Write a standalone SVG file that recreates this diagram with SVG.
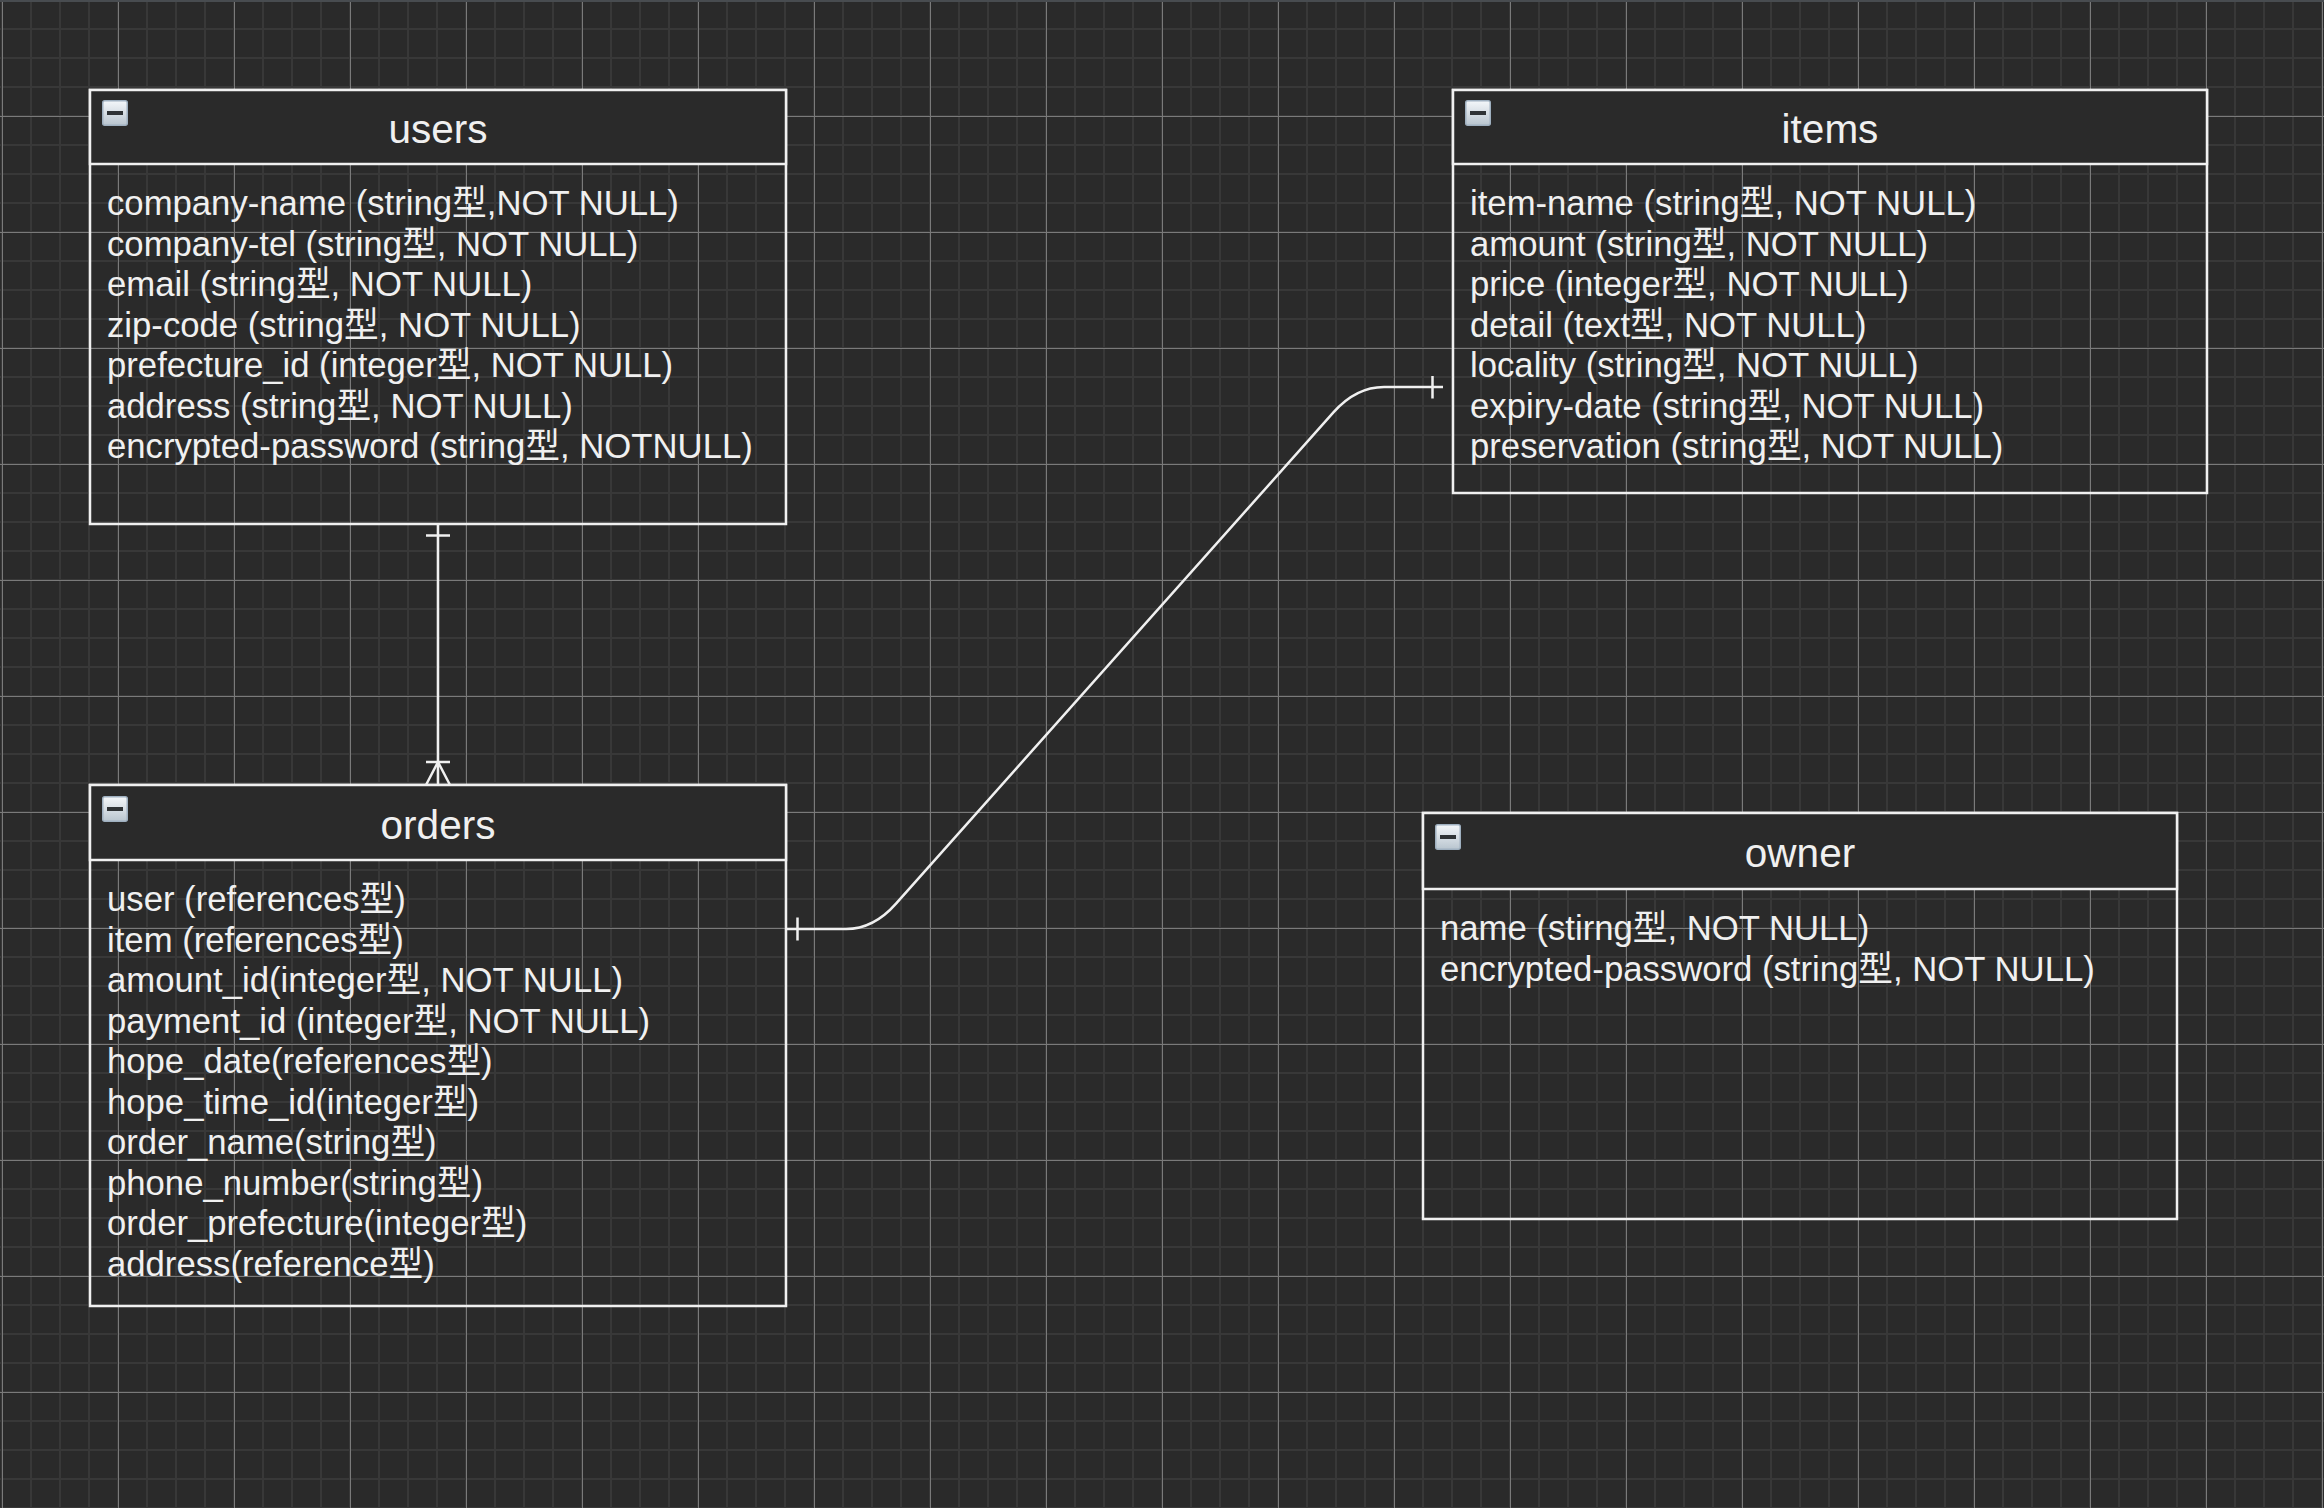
<svg xmlns="http://www.w3.org/2000/svg" xmlns:xlink="http://www.w3.org/1999/xlink" width="2324" height="1508" viewBox="0 0 2324 1508">
  <defs>
    <pattern id="gridMinor" patternUnits="userSpaceOnUse" x="1" y="28" width="29" height="29">
      <rect x="0" y="0" width="2" height="29" fill="#383838"/>
      <rect x="0" y="0" width="29" height="2" fill="#383838"/>
    </pattern>
    <pattern id="gridMajor" patternUnits="userSpaceOnUse" x="2" y="0" width="116" height="116">
      <rect x="0" y="0" width="1" height="116" fill="#7a7a7a"/>
      <rect x="0" y="0" width="116" height="1" fill="#7a7a7a"/>
    </pattern>
    <linearGradient id="iconGrad" x1="0" y1="0" x2="0" y2="1">
      <stop offset="0" stop-color="#f4f7fa"/>
      <stop offset="1" stop-color="#b9c5cf"/>
    </linearGradient>
    <g id="minusIcon">
      <rect x="0.75" y="0.75" width="24.5" height="24.5" rx="2" fill="url(#iconGrad)" stroke="#9fb0c0" stroke-width="1.5"/>
      <rect x="5" y="11" width="16" height="4" fill="#2f3336"/>
    </g>
  </defs>
  <style>
    .hdr { fill: #2a2a2a; stroke: #f0f0f0; stroke-width: 2.5; }
    .box { fill: none; stroke: #f0f0f0; stroke-width: 2.5; }
    .title { font-family: "Liberation Sans", Arial, Helvetica, "Noto Sans CJK JP", sans-serif; font-size: 40.5px; fill: #f0f0f0; text-anchor: middle; }
    .field { font-family: "Liberation Sans", Arial, Helvetica, "Noto Sans CJK JP", sans-serif; font-size: 34.7px; fill: #f0f0f0; }
    .edge { fill: none; stroke: #f0f0f0; stroke-width: 2.5; stroke-linecap: butt; stroke-linejoin: round; }
  </style>

  <rect x="0" y="0" width="2324" height="1508" fill="#2a2a2a"/>
  <rect x="0" y="0" width="2324" height="1508" fill="url(#gridMinor)"/>
  <rect x="0" y="0" width="2324" height="1508" fill="url(#gridMajor)"/>
  <rect x="0" y="0" width="2324" height="2" fill="#484c50"/>

  <g id="connectors">
    <g id="edge-users-orders">
      <line class="edge" x1="438" y1="524" x2="438" y2="785"/>
      <line class="edge" x1="426" y1="535.5" x2="450" y2="535.5"/>
      <line class="edge" x1="426" y1="762" x2="450" y2="762"/>
      <path class="edge" d="M426,785 L438,762 L450,785"/>
    </g>
    <g id="edge-orders-items">
      <path class="edge" d="M786,929 H846 Q873.6,929 896,903.6 L1333.4,412.4 Q1356,387 1384,387 H1443"/>
      <line class="edge" x1="797.5" y1="917.5" x2="797.5" y2="940.5"/>
      <line class="edge" x1="1432.5" y1="376" x2="1432.5" y2="398.5"/>
    </g>
  </g>

  <g id="node-users">
    <rect class="box" x="90" y="90" width="696" height="434"/>
    <rect class="hdr" x="90" y="90" width="696" height="74"/>
    <use xlink:href="#minusIcon" href="#minusIcon" x="102" y="100"/>
    <text class="title" x="438" y="143">users</text>
    <text class="field">
      <tspan x="107" y="215">company-name (string型,NOT NULL)</tspan>
      <tspan x="107" y="255.5">company-tel (string型, NOT NULL)</tspan>
      <tspan x="107" y="296">email (string型, NOT NULL)</tspan>
      <tspan x="107" y="336.5">zip-code (string型, NOT NULL)</tspan>
      <tspan x="107" y="377">prefecture_id (integer型, NOT NULL)</tspan>
      <tspan x="107" y="417.5">address (string型, NOT NULL)</tspan>
      <tspan x="107" y="458">encrypted-password (string型, NOTNULL)</tspan>
    </text>
  </g>

  <g id="node-orders">
    <rect class="box" x="90" y="785" width="696" height="521"/>
    <rect class="hdr" x="90" y="785" width="696" height="75"/>
    <use xlink:href="#minusIcon" href="#minusIcon" x="102" y="796"/>
    <text class="title" x="438" y="838.5">orders</text>
    <text class="field">
      <tspan x="107" y="911">user (references型)</tspan>
      <tspan x="107" y="951.5">item (references型)</tspan>
      <tspan x="107" y="992">amount_id(integer型, NOT NULL)</tspan>
      <tspan x="107" y="1032.5">payment_id (integer型, NOT NULL)</tspan>
      <tspan x="107" y="1073">hope_date(references型)</tspan>
      <tspan x="107" y="1113.5">hope_time_id(integer型)</tspan>
      <tspan x="107" y="1154">order_name(string型)</tspan>
      <tspan x="107" y="1194.5">phone_number(string型)</tspan>
      <tspan x="107" y="1235">order_prefecture(integer型)</tspan>
      <tspan x="107" y="1275.5">address(reference型)</tspan>
    </text>
  </g>

  <g id="node-items">
    <rect class="box" x="1453" y="90" width="754" height="403"/>
    <rect class="hdr" x="1453" y="90" width="754" height="74"/>
    <use xlink:href="#minusIcon" href="#minusIcon" x="1465" y="100"/>
    <text class="title" x="1830" y="143">items</text>
    <text class="field">
      <tspan x="1470" y="215">item-name (string型, NOT NULL)</tspan>
      <tspan x="1470" y="255.5">amount (string型, NOT NULL)</tspan>
      <tspan x="1470" y="296">price (integer型, NOT NULL)</tspan>
      <tspan x="1470" y="336.5">detail (text型, NOT NULL)</tspan>
      <tspan x="1470" y="377">locality (string型, NOT NULL)</tspan>
      <tspan x="1470" y="417.5">expiry-date (string型, NOT NULL)</tspan>
      <tspan x="1470" y="458">preservation (string型, NOT NULL)</tspan>
    </text>
  </g>

  <g id="node-owner">
    <rect class="box" x="1423" y="813" width="754" height="406"/>
    <rect class="hdr" x="1423" y="813" width="754" height="76"/>
    <use xlink:href="#minusIcon" href="#minusIcon" x="1435" y="824"/>
    <text class="title" x="1800" y="867">owner</text>
    <text class="field">
      <tspan x="1440" y="940">name (stirng型, NOT NULL)</tspan>
      <tspan x="1440" y="980.5">encrypted-password (string型, NOT NULL)</tspan>
    </text>
  </g>
</svg>
